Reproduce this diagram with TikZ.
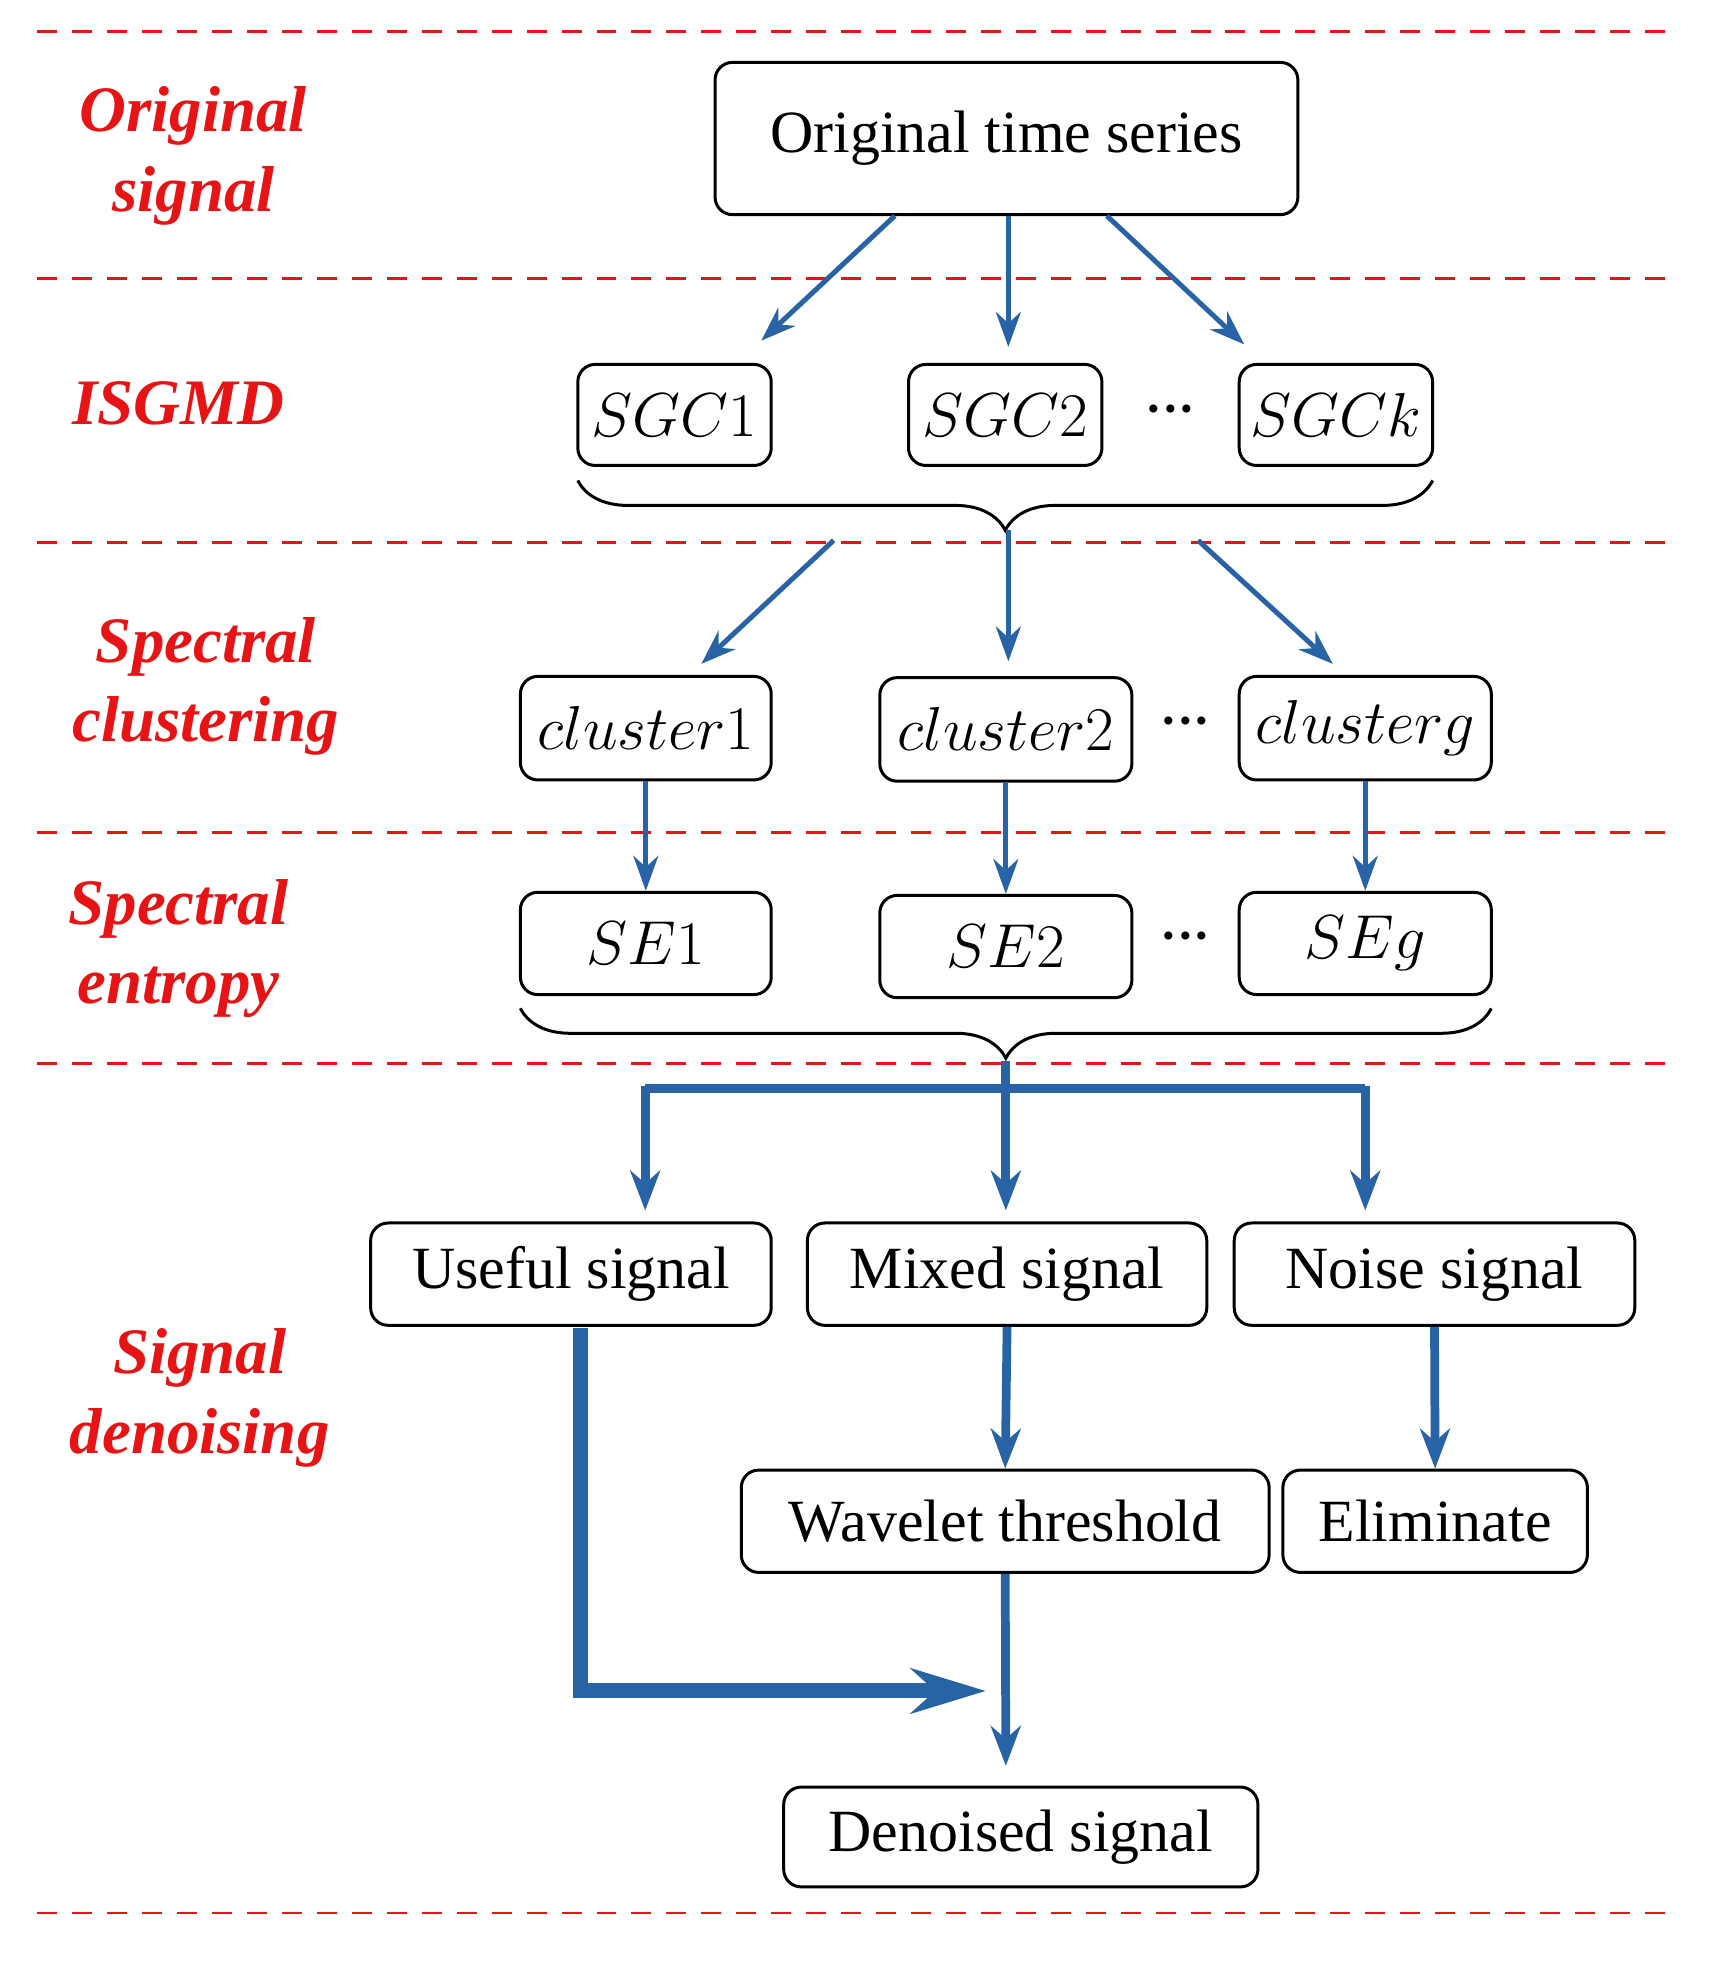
\documentclass[tikz,border=0pt]{standalone}
\usepackage{fontspec}
\setmainfont{Liberation Serif}
\usetikzlibrary{arrows.meta,decorations.pathreplacing}
\definecolor{ab}{RGB}{40,100,165}
\definecolor{lr}{RGB}{230,20,20}
\begin{document}
\begin{tikzpicture}[x=0.5pt,y=-0.5pt,
 box/.style={draw,line width=1.2pt,rounded corners=7pt,font=\fontsize{24}{26}\selectfont,inner sep=0pt},
 lab/.style={text=lr,font=\fontsize{26}{32}\selectfont\bfseries\itshape,align=center},
 dts/.style={font=\fontsize{20}{22}\selectfont\bfseries},
 rdash/.style={lr,line width=1.1pt,dash pattern=on 8pt off 6pt},
 arr/.style={ab,line width=2pt,-{Stealth[length=14pt,width=10pt]}},
 tarr/.style={ab,line width=3.5pt,-{Stealth[length=16pt,width=12pt]}},
 tl/.style={ab,line width=3.5pt},
 brc/.style={decorate,decoration={brace,amplitude=20pt},line width=1.2pt}]
\useasboundingbox (0,0) rectangle (1380,1573);
\foreach \y in {25,223,435,667,852,1533} \draw[rdash] (30,\y) -- (1335,\y);
\node[lab] (l1) at (155,125) {Original\\signal};
\node[lab] (l2) at (143,323) {ISGMD};
\node[lab] (l3) at (165,550) {Spectral\\clustering};
\node[lab] (l4) at (143,760) {Spectral\\entropy};
\node[lab] (l5) at (160,1120) {Signal\\denoising};
\node[box,minimum width=233.5pt,minimum height=61pt] (orig) at (806.5,111) {Original time series};
\node[box,minimum width=77.5pt,minimum height=40.5pt] (s1) at (540.5,332.5) {$SGC1$};
\node[box,minimum width=77.5pt,minimum height=40.5pt] (s2) at (805.5,332.5) {$SGC2$};
\node[box,minimum width=77.5pt,minimum height=40.5pt] (sk) at (1070.5,332.5) {$SGCk$};
\node[dts] (d1) at (938,333) {···};
\node[box,minimum width=100.5pt,minimum height=41.5pt] (c1) at (517.5,583.5) {$cluster1$};
\node[box,minimum width=101pt,minimum height=41.5pt] (c2) at (806,584.5) {$cluster2$};
\node[box,minimum width=101pt,minimum height=41.5pt] (cg) at (1094,583.5) {$clusterg$};
\node[dts] (d2) at (950,583) {···};
\node[box,minimum width=100.5pt,minimum height=41pt] (e1) at (517.5,756) {$SE1$};
\node[box,minimum width=101pt,minimum height=41pt] (e2) at (806,758.5) {$SE2$};
\node[box,minimum width=101pt,minimum height=41pt] (eg) at (1094,756) {$SEg$};
\node[dts] (d3) at (950,755) {···};
\node[box,minimum width=160.5pt,minimum height=41pt] (us) at (457.5,1021) {Useful signal};
\node[box,minimum width=160pt,minimum height=41pt] (ms) at (807,1021) {Mixed signal};
\node[box,minimum width=160.5pt,minimum height=41pt] (ns) at (1149.5,1021) {Noise signal};
\node[box,minimum width=211.5pt,minimum height=41pt] (wt) at (805.5,1219) {Wavelet threshold};
\node[box,minimum width=122pt,minimum height=41pt] (el) at (1150,1219) {Eliminate};
\node[box,minimum width=190pt,minimum height=40pt] (dn) at (818,1472) {Denoised signal};
\coordinate (o1) at (717,173); \coordinate (t1) at (610,273);
\coordinate (o2) at (808,173); \coordinate (t2) at (808,278);
\coordinate (o3) at (887,173); \coordinate (t3) at (997,276);
\draw[arr] (o1) -- (t1);
\draw[arr] (o2) -- (t2);
\draw[arr] (o3) -- (t3);
\draw[brc] (1148,385) -- (463,385);
\coordinate (b1) at (668,433); \coordinate (bt1) at (562,532);
\coordinate (b2) at (808,425); \coordinate (bt2) at (808,530);
\coordinate (b3) at (960,433); \coordinate (bt3) at (1068,532);
\draw[arr] (b1) -- (bt1);
\draw[arr] (b2) -- (bt2);
\draw[arr] (b3) -- (bt3);
\draw[arr] (c1.south) -- (e1.north);
\draw[arr] (c2.south) -- (e2.north);
\draw[arr] (cg.south) -- (eg.north);
\draw[brc] (1195,808) -- (417,808);
\coordinate (j) at (806,872);
\draw[tl] (806,850) -- (j);
\draw[tl] (517,872) -- (1094,872);
\draw[tarr] (517,870) -- (517,970);
\draw[tarr] (j) -- (806,970);
\draw[tarr] (1094,870) -- (1094,970);
\coordinate (corner) at (465,1355);
\coordinate (ue) at (790,1355);
\draw[ab,line width=6pt,-{Stealth[length=30pt,width=18pt]}] (465,1064) -- (corner) -- (ue);
\draw[tarr] (ms.south) -- (wt.north);
\draw[tarr] (ns.south) -- (el.north);
\draw[tarr] (wt.south) -- (806,1415);
\end{tikzpicture}
\end{document}
